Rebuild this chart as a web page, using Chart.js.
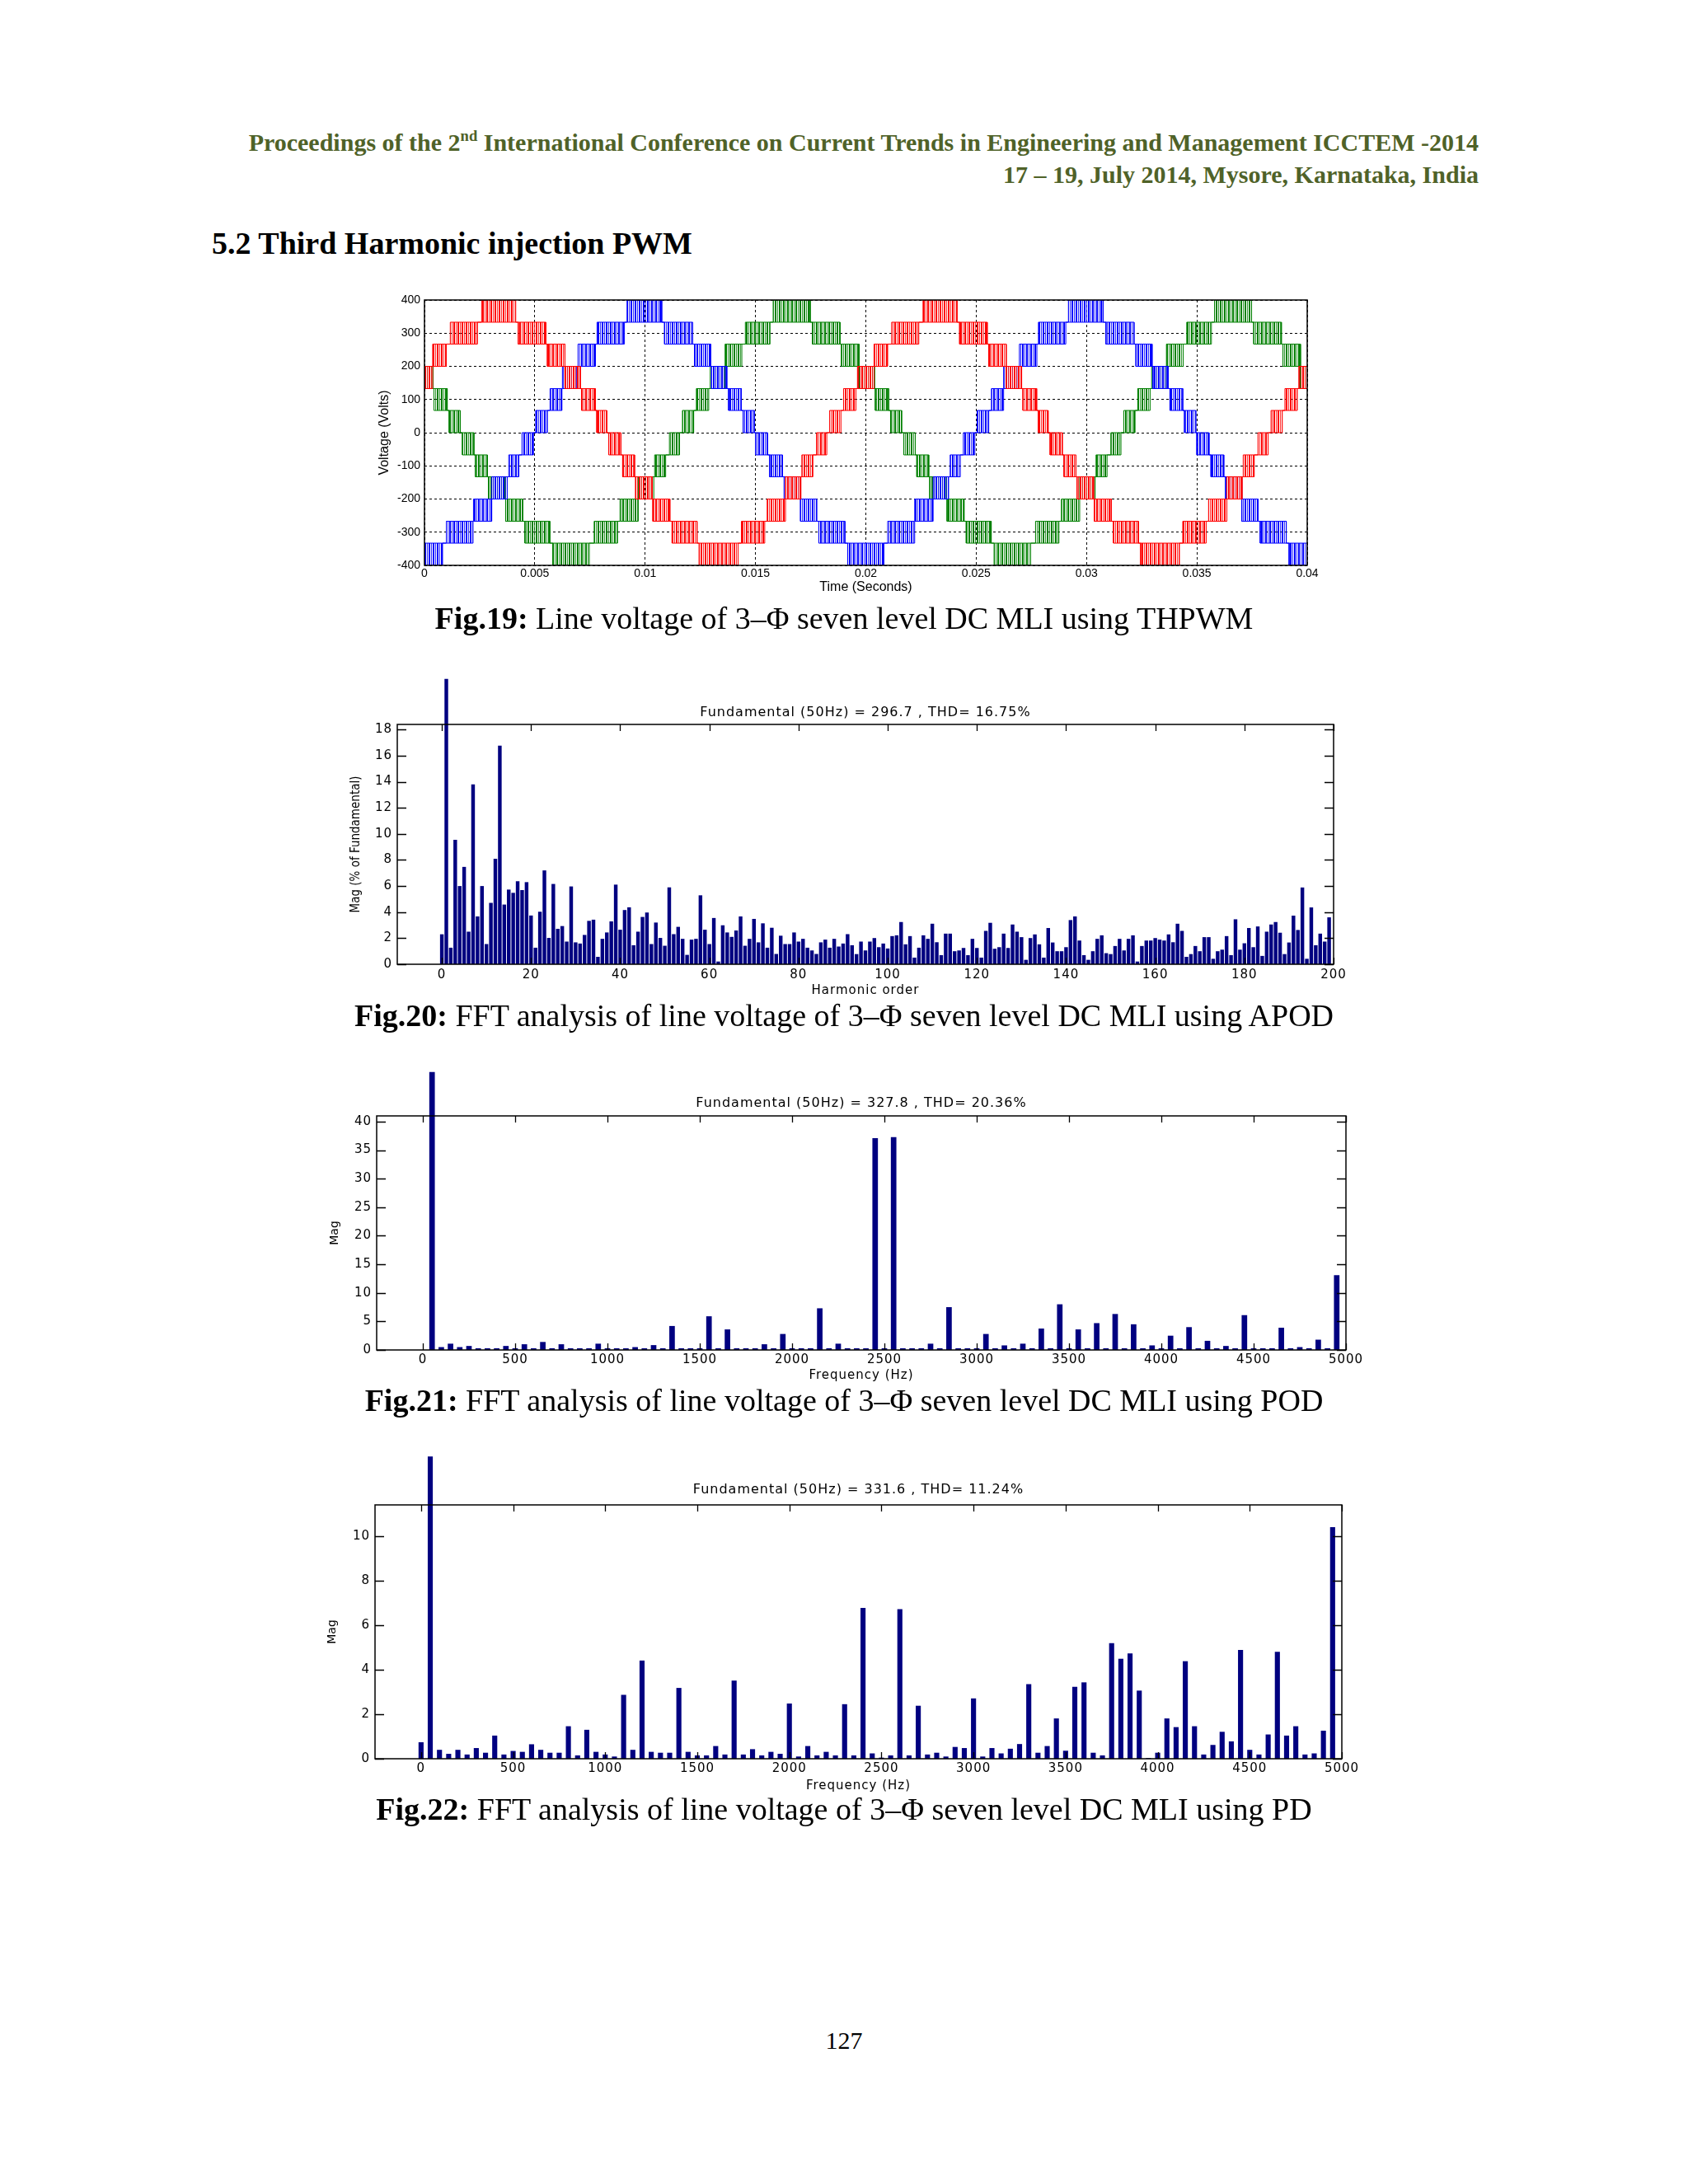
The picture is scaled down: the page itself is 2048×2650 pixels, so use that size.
<!DOCTYPE html>
<html>
<head>
<meta charset="utf-8">
<script src="https://cdn.jsdelivr.net/npm/chart.js@4.4.1/dist/chart.umd.min.js"></script>
<style>
  body { margin: 0; background: #fff; }
  #page { position: relative; width: 2048px; height: 2650px; background: #fff; overflow: hidden; }
  .t { position: absolute; font-family: 'Liberation Serif', 'Times New Roman', serif; white-space: nowrap; line-height: 1; transform: translateY(-50%); }
  .hdr { right: 254px; color: #4f6228; font-weight: bold; font-size: 30px; }
  .hdr sup { font-size: 0.62em; vertical-align: 0; position: relative; top: -0.62em; }
  .cap { left: 0; width: 2048px; text-align: center; font-size: 38px; color: #000; }
  canvas { position: absolute; }
</style>
</head>
<body>
<div id="page">
  <div class="t hdr" style="top:173px">Proceedings of the 2<sup>nd</sup> International Conference on Current Trends in Engineering and Management ICCTEM -2014</div>
  <div class="t hdr" style="top:212px">17 – 19, July 2014, Mysore, Karnataka, India</div>
  <div class="t" style="top:295px;left:257px;font-size:38px;font-weight:bold;">5.2 Third Harmonic injection PWM</div>

  <canvas id="fig19" width="1200" height="410" style="left:420px;top:330px"></canvas>
  <div class="t cap" style="top:750px"><b>Fig.19:</b> Line voltage of 3–Φ seven level DC MLI using THPWM</div>

  <canvas id="fig20" width="1290" height="420" style="left:380px;top:800px"></canvas>
  <div class="t cap" style="top:1232px"><b>Fig.20:</b> FFT analysis of line voltage of 3–Φ seven level DC MLI using APOD</div>

  <canvas id="fig21" width="1340" height="420" style="left:340px;top:1270px"></canvas>
  <div class="t cap" style="top:1699px"><b>Fig.21:</b> FFT analysis of line voltage of 3–Φ seven level DC MLI using POD</div>

  <canvas id="fig22" width="1340" height="440" style="left:340px;top:1740px"></canvas>
  <div class="t cap" style="top:2195px"><b>Fig.22:</b> FFT analysis of line voltage of 3–Φ seven level DC MLI using PD</div>

  <div class="t" style="top:2476px;left:0;width:2048px;text-align:center;font-size:30px;">127</div>
</div>

<script>
// ---------- Fig.19: switching bands per line voltage, one 20 ms cycle
// [start ms, end ms, lower level V, upper level V]
const periodMs = 20;
const redBands = [
  [0.37, 0.99, 200, 267], [1.17, 2.40, 267, 333], [2.59, 4.13, 333, 400], [4.25, 5.50, 267, 333],
  [5.57, 6.36, 200, 267], [6.37, 7.06, 133, 200], [7.12, 7.74, 67, 133], [7.81, 8.26, 0, 67],
  [8.35, 8.90, -67, 0], [8.98, 9.52, -133, -67], [9.57, 10.32, -200, -133], [10.35, 11.12, -267, -200],
  [11.22, 12.35, -333, -267], [12.45, 14.21, -400, -333], [14.36, 15.42, -333, -267], [15.53, 16.36, -267, -200],
  [16.36, 17.06, -200, -133], [17.10, 17.60, -133, -67], [17.77, 18.23, -67, 0], [18.36, 18.87, 0, 67],
  [18.99, 19.55, 67, 133], [19.62, 20.37, 133, 200]
];
const blueBands = [
  [0.99, 2.20, -333, -267], [2.22, 3.05, -267, -200], [3.05, 3.75, -200, -133], [3.82, 4.28, -133, -67],
  [4.42, 4.94, -67, 0], [5.04, 5.57, 0, 67], [5.69, 6.23, 67, 133], [6.25, 6.90, 133, 200],
  [6.96, 7.75, 200, 267], [7.82, 9.06, 267, 333], [9.18, 10.75, 333, 400], [10.88, 12.15, 267, 333],
  [12.24, 12.97, 200, 267], [13.01, 13.70, 133, 200], [13.78, 14.36, 67, 133], [14.44, 14.95, 0, 67],
  [15.00, 15.55, -67, 0], [15.64, 16.22, -133, -67], [16.30, 17.03, -200, -133], [17.04, 17.77, -267, -200],
  [17.87, 19.05, -333, -267], [19.18, 20.82, -400, -333]
];
const greenBands = [
  [0.43, 1.03, 67, 133], [1.12, 1.62, 0, 67], [1.72, 2.24, -67, 0], [2.31, 2.85, -133, -67],
  [2.90, 3.65, -200, -133], [3.68, 4.45, -267, -200], [4.55, 5.68, -333, -267], [5.82, 7.47, -400, -333],
  [7.69, 8.75, -333, -267], [8.86, 9.69, -267, -200], [9.69, 10.39, -200, -133], [10.43, 10.93, -133, -67],
  [11.10, 11.56, -67, 0], [11.69, 12.20, 0, 67], [12.32, 12.88, 67, 133], [12.95, 13.62, 133, 200],
  [13.62, 14.38, 200, 267], [14.54, 15.66, 267, 333], [15.80, 17.48, 333, 400], [17.58, 18.83, 267, 333],
  [18.90, 19.69, 200, 267], [19.70, 20.39, 133, 200]
];
const timeTicks = [0, 0.005, 0.01, 0.015, 0.02, 0.025, 0.03, 0.035, 0.04];
const voltTicks = [-400, -300, -200, -100, 0, 100, 200, 300, 400];

// ---------- Fig.20: APOD spectrum, harmonic orders 0..199 (% of fundamental)
const harmonicTicks = [0, 20, 40, 60, 80, 100, 120, 140, 160, 180, 200];
const apodMagTicks = [0, 2, 4, 6, 8, 10, 12, 14, 16, 18];
const apodMag = [
  2.3, 21.9, 1.27, 9.55, 6.0, 7.47, 2.5, 13.8, 3.67, 6.0,
  1.55, 4.71, 8.1, 16.77, 4.58, 5.73, 5.48, 6.37, 5.69, 6.3,
  3.74, 1.27, 4.03, 7.2, 2.02, 6.16, 2.72, 2.93, 1.74, 5.97,
  1.68, 1.59, 2.25, 3.33, 3.42, 0.57, 1.95, 2.44, 3.29, 6.11,
  2.65, 4.16, 4.37, 1.46, 2.5, 3.63, 3.97, 1.55, 3.2, 2.02,
  1.42, 5.9, 2.31, 2.87, 1.95, 0.72, 1.89, 1.95, 5.29, 2.65,
  1.55, 3.55, 0.21, 2.99, 2.44, 2.1, 2.59, 3.67, 1.42, 1.95,
  3.48, 1.68, 3.14, 1.27, 2.8, 0.79, 2.19, 1.55, 1.55, 2.44,
  1.74, 1.95, 1.27, 1.06, 0.79, 1.68, 1.89, 1.27, 1.95, 1.36,
  1.59, 2.31, 1.46, 0.78, 1.74, 1.06, 1.74, 2.01, 1.31, 1.59,
  1.21, 2.16, 2.22, 3.24, 1.53, 2.16, 0.51, 1.27, 2.22, 1.95,
  3.11, 1.69, 0.7, 2.35, 2.35, 1.0, 1.06, 1.25, 0.7, 1.95,
  1.25, 0.51, 2.56, 3.18, 1.19, 1.31, 2.35, 1.25, 3.05, 2.5,
  2.08, 0.34, 2.01, 2.29, 1.53, 0.51, 2.78, 1.67, 1.0, 1.0,
  1.31, 3.39, 3.67, 1.82, 0.7, 0.34, 1.0, 1.95, 2.22, 0.85,
  0.78, 1.4, 1.95, 1.06, 1.95, 2.22, 0.21, 1.4, 1.82, 1.82,
  2.01, 1.89, 1.82, 2.29, 1.69, 3.11, 2.56, 0.57, 0.78, 1.4,
  1.0, 2.08, 2.08, 0.42, 1.0, 1.12, 2.16, 0.7, 3.45, 1.12,
  1.61, 2.78, 1.31, 2.9, 0.64, 2.5, 3.05, 3.24, 2.42, 0.78,
  1.67, 3.73, 2.63, 5.89, 0.42, 4.36, 1.46, 2.35, 1.74, 3.6
];

// ---------- Fig.21 / Fig.22: spectra in 50 Hz bins, 0..4950 Hz
const binHz = 50;
const freqTicks = [0, 500, 1000, 1500, 2000, 2500, 3000, 3500, 4000, 4500, 5000];
const podMagTicks = [0, 5, 10, 15, 20, 25, 30, 35, 40];
const podMag = [
  0, 48.7, 0.5, 1.1, 0.5, 0.7, 0.3, 0.3, 0.3, 0.7,
  0.3, 1.0, 0.3, 1.4, 0.3, 1.0, 0.3, 0.3, 0.3, 1.1,
  0.3, 0.3, 0.3, 0.5, 0.3, 0.85, 0.3, 4.2, 0.3, 0.3,
  0.3, 5.9, 0.3, 3.6, 0.3, 0.3, 0.3, 1.0, 0.3, 2.8,
  0.3, 0.3, 0.3, 7.3, 0.3, 1.1, 0.3, 0.3, 0.3, 37.1,
  0.3, 37.3, 0.3, 0.3, 0.3, 1.1, 0.3, 7.5, 0.3, 0.3,
  0.3, 2.8, 0.3, 0.8, 0.3, 1.1, 0.3, 3.75, 0.3, 8.0,
  0.3, 3.6, 0.3, 4.7, 0.3, 6.3, 0.3, 4.5, 0.3, 0.8,
  0.3, 2.5, 0.3, 4.0, 0.3, 1.6, 0.3, 0.7, 0.3, 6.1,
  0.3, 0.3, 0.3, 3.9, 0.3, 0.5, 0.3, 1.8, 0.3, 13.1
];
const pdMagTicks = [0, 2, 4, 6, 8, 10];
const pdMag = [
  0.74, 13.57, 0.4, 0.22, 0.4, 0.19, 0.48, 0.27, 1.04, 0.19,
  0.35, 0.31, 0.65, 0.4, 0.27, 0.27, 1.46, 0.15, 1.3, 0.31,
  0.19, 0.1, 2.87, 0.4, 4.41, 0.31, 0.27, 0.27, 3.18, 0.31,
  0.15, 0.15, 0.57, 0.19, 3.51, 0.19, 0.43, 0.15, 0.31, 0.22,
  2.48, 0.1, 0.57, 0.15, 0.31, 0.15, 2.45, 0.15, 6.77, 0.24,
  0.05, 0.15, 6.72, 0.15, 2.38, 0.19, 0.27, 0.1, 0.53, 0.48,
  2.71, 0.1, 0.48, 0.24, 0.45, 0.66, 3.35, 0.27, 0.57, 1.81,
  0.36, 3.23, 3.43, 0.27, 0.15, 5.19, 4.49, 4.73, 3.06, 0.03,
  0.27, 1.81, 1.42, 4.38, 1.46, 0.19, 0.62, 1.21, 0.78, 4.89,
  0.4, 0.19, 1.09, 4.8, 1.04, 1.46, 0.19, 0.24, 1.26, 10.4
];

Chart.defaults.font.family = "'DejaVu Sans', sans-serif";
Chart.defaults.color = '#000';

// box round the plot, optional inward ticks on all four sides
const framePlugin = {
  id: 'frame',
  afterDatasetsDraw(chart, args, opts) {
    const { ctx, chartArea: a, scales: { x, y } } = chart;
    ctx.save();
    ctx.strokeStyle = '#000';
    if (opts.ticks) {
      ctx.lineWidth = 1.3;
      ctx.beginPath();
      x.ticks.forEach(t => {
        const px = Math.round(x.getPixelForValue(t.value)) + 0.5;
        ctx.moveTo(px, a.bottom); ctx.lineTo(px, a.bottom - opts.xLen);
        ctx.moveTo(px, a.top); ctx.lineTo(px, a.top + opts.xLen);
      });
      y.ticks.forEach(t => {
        const py = Math.round(y.getPixelForValue(t.value)) + 0.5;
        ctx.moveTo(a.left, py); ctx.lineTo(a.left + opts.yLen, py);
        ctx.moveTo(a.right, py); ctx.lineTo(a.right - opts.yLen, py);
      });
      ctx.stroke();
    }
    ctx.lineWidth = 1.5;
    ctx.strokeRect(a.left, a.top, a.right - a.left, a.bottom - a.top);
    ctx.restore();
  }
};

// MATLAB-style title line and vertical axis label of the spectrum plots
const fftText = {
  id: 'fftText',
  afterDraw(chart, args, opts) {
    if (!opts.title) return;
    const { ctx, chartArea: a } = chart;
    ctx.save();
    ctx.fillStyle = '#000';
    ctx.textAlign = 'center';
    ctx.textBaseline = 'middle';
    ctx.letterSpacing = '1px';
    ctx.font = "16px 'DejaVu Sans', sans-serif";
    ctx.fillText(opts.title, (a.left + a.right) / 2, a.top - opts.gap);
    ctx.letterSpacing = opts.yTitleSpacing;
    ctx.font = opts.yTitleFont;
    ctx.translate(opts.yTitleX, (a.top + a.bottom) / 2);
    ctx.rotate(-Math.PI / 2);
    ctx.fillText(opts.yTitle, 0, 0);
    ctx.restore();
  }
};

const spacingPlugin = {
  id: 'spacing',
  beforeUpdate(chart, args, opts) { chart.ctx.letterSpacing = opts.px || '0px'; },
  beforeDraw(chart, args, opts) { chart.ctx.letterSpacing = opts.px || '0px'; }
};

Chart.register(framePlugin, fftText, spacingPlugin);

// ---------- Fig.19
const c19 = document.getElementById('fig19');

function stripes(color) {
  const c = document.createElement('canvas');
  c.width = 5; c.height = 4;
  const g = c.getContext('2d');
  g.fillStyle = color;
  g.fillRect(0, 0, 2, 4);
  g.globalAlpha = 0.8;
  g.fillRect(3, 0, 1, 4);
  return c19.getContext('2d').createPattern(c, 'repeat');
}

// upper/lower outline of the switching bands, cycle repeated over the window
function envelope(bands) {
  const list = [];
  for (let k = -1; k <= 1; k++) {
    bands.forEach(b => list.push([b[0] + k * periodMs, b[1] + k * periodMs, b[2], b[3]]));
  }
  const common = (a, b) => (a[2] === b[2] || a[2] === b[3]) ? a[2] : a[3];
  const upper = [], lower = [];
  list.forEach((b, i) => {
    const prev = list[(i - 1 + list.length) % list.length];
    const next = list[(i + 1) % list.length];
    const f0 = common(prev, b), f1 = common(b, next);
    const t0 = b[0] / 1000, t1 = b[1] / 1000;
    upper.push({ x: t0, y: f0 }, { x: t0, y: b[3] }, { x: t1, y: b[3] }, { x: t1, y: f1 });
    lower.push({ x: t0, y: f0 }, { x: t0, y: b[2] }, { x: t1, y: b[2] }, { x: t1, y: f1 });
  });
  return { upper, lower };
}

const phaseSets = [];
[[redBands, '#ff0000'], [blueBands, '#0000ff'], [greenBands, '#008000']].forEach(([bands, color]) => {
  const env = envelope(bands);
  const line = { borderColor: color, borderWidth: 1, pointRadius: 0, pointHitRadius: 0, tension: 0 };
  phaseSets.push({ ...line, data: env.upper, backgroundColor: stripes(color), fill: '+1' });
  phaseSets.push({ ...line, data: env.lower, fill: false });
});

const arial = "'Liberation Sans', Arial, sans-serif";

new Chart(c19, {
  type: 'line',
  data: { datasets: phaseSets },
  options: {
    responsive: false,
    animation: false,
    devicePixelRatio: 1,
    layout: { padding: { left: 0, top: 34, right: 34, bottom: 0 } },
    plugins: { legend: { display: false }, tooltip: { enabled: false }, frame: { ticks: false } },
    scales: {
      x: {
        type: 'linear', min: 0, max: 0.04,
        grid: { color: '#000', lineWidth: 1, drawTicks: false },
        border: { display: false, dash: [3, 3] },
        afterBuildTicks: s => { s.ticks = timeTicks.map(v => ({ value: v })); },
        afterFit: s => { s.height = 54; },
        ticks: { font: { family: arial, size: 14 }, padding: 2, maxRotation: 0, autoSkip: false, callback: v => String(+v.toFixed(3)) },
        title: { display: true, text: 'Time (Seconds)', font: { family: arial, size: 16 }, padding: { top: 0, bottom: 18 } }
      },
      y: {
        min: -400, max: 400,
        grid: { color: '#000', lineWidth: 1, drawTicks: false },
        border: { display: false, dash: [3, 3] },
        afterBuildTicks: s => { s.ticks = voltTicks.map(v => ({ value: v })); },
        afterFit: s => { s.width = 95; },
        ticks: { font: { family: arial, size: 14 }, padding: 5, callback: v => String(v) },
        title: { display: true, text: 'Voltage (Volts)', font: { family: arial, size: 16 }, padding: { top: 37, bottom: 0 } }
      }
    }
  }
});

// ---------- spectra
function makeSpectrum(id, o) {
  return new Chart(document.getElementById(id), {
    type: 'bar',
    data: {
      datasets: [{
        data: o.mags.map((v, i) => ({ x: i * o.step, y: v })),
        backgroundColor: '#000080',
        borderWidth: 0,
        barPercentage: o.barPct,
        categoryPercentage: 1,
        clip: false
      }]
    },
    options: {
      responsive: false,
      animation: false,
      devicePixelRatio: 1,
      layout: { padding: { left: 0, top: o.padTop, right: o.padRight, bottom: 0 } },
      plugins: {
        legend: { display: false },
        tooltip: { enabled: false },
        spacing: { px: '1px' },
        frame: { ticks: true, xLen: 8, yLen: 11 },
        fftText: {
          title: o.title, gap: o.titleGap,
          yTitle: o.yTitle, yTitleX: o.yTitleX, yTitleFont: o.yTitleFont, yTitleSpacing: o.yTitleSpacing
        }
      },
      scales: {
        x: {
          type: 'linear', min: o.xMin, max: o.xMax, offset: false,
          grid: { display: false, drawTicks: false }, border: { display: false },
          afterBuildTicks: s => { s.ticks = o.xTicks.map(v => ({ value: v })); },
          afterFit: s => { s.height = o.xHeight; },
          ticks: { font: { size: 15 }, padding: o.labelPad, maxRotation: 0, autoSkip: false, callback: v => String(v) },
          title: { display: true, text: o.xTitle, font: { size: 15 }, padding: { top: 0, bottom: o.xTitlePad } }
        },
        y: {
          min: 0, max: o.yMax,
          grid: { display: false, drawTicks: false }, border: { display: false },
          afterBuildTicks: s => { s.ticks = o.yTicks.map(v => ({ value: v })); },
          afterFit: s => { s.width = o.yWidth; },
          ticks: { font: { size: 15 }, padding: 6, callback: v => String(v) }
        }
      }
    }
  });
}

makeSpectrum('fig20', {
  mags: apodMag, step: 1, barPct: 0.82,
  xMin: -10, xMax: 200, xTicks: harmonicTicks, yMax: 18.4, yTicks: apodMagTicks,
  padTop: 79, padRight: 52, yWidth: 102, xHeight: 50, labelPad: 4,
  xTitle: 'Harmonic order', xTitlePad: 9,
  yTitle: 'Mag (% of Fundamental)', yTitleX: 52,
  yTitleFont: "15px 'Liberation Sans Narrow', 'DejaVu Sans Condensed', sans-serif", yTitleSpacing: '0px',
  title: 'Fundamental (50Hz) = 296.7 , THD= 16.75%', titleGap: 14
});

makeSpectrum('fig21', {
  mags: podMag, step: binHz, barPct: 0.6,
  xMin: -250, xMax: 5000, xTicks: freqTicks, yMax: 41, yTicks: podMagTicks,
  padTop: 84, padRight: 47, yWidth: 117, xHeight: 52, labelPad: 3,
  xTitle: 'Frequency (Hz)', xTitlePad: 12,
  yTitle: 'Mag', yTitleX: 66,
  yTitleFont: "14px 'DejaVu Sans', sans-serif", yTitleSpacing: '0px',
  title: 'Fundamental (50Hz) = 327.8 , THD= 20.36%', titleGap: 15
});

makeSpectrum('fig22', {
  mags: pdMag, step: binHz, barPct: 0.55,
  xMin: -250, xMax: 5000, xTicks: freqTicks, yMax: 11.4, yTicks: pdMagTicks,
  padTop: 86, padRight: 52, yWidth: 115, xHeight: 46, labelPad: 3,
  xTitle: 'Frequency (Hz)', xTitlePad: 4,
  yTitle: 'Mag', yTitleX: 63,
  yTitleFont: "14px 'DejaVu Sans', sans-serif", yTitleSpacing: '0px',
  title: 'Fundamental (50Hz) = 331.6 , THD= 11.24%', titleGap: 18
});
</script>
</body>
</html>
